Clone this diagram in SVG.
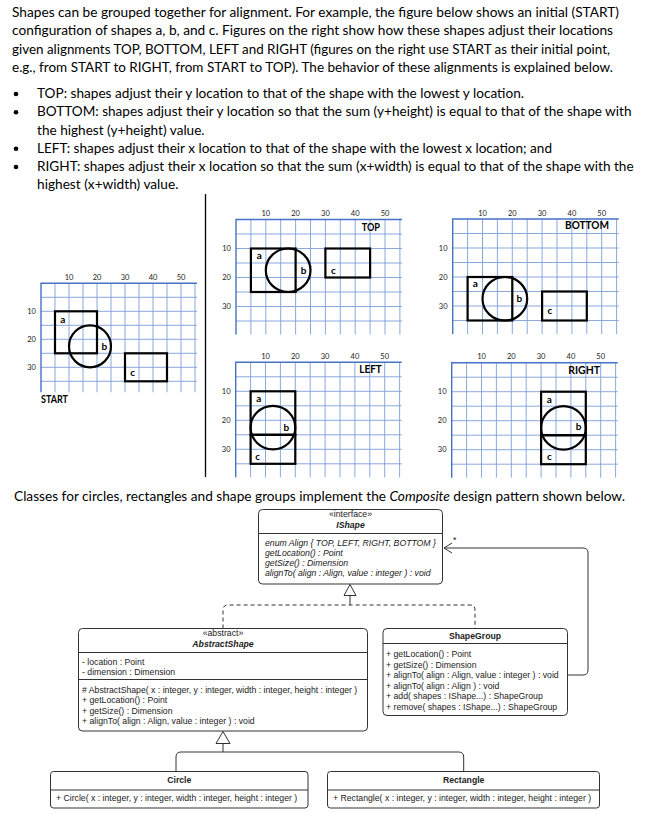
<svg xmlns="http://www.w3.org/2000/svg" xmlns:xlink="http://www.w3.org/1999/xlink" width="651" height="828" viewBox="0 0 651 828">
<style>
.body{font-family:"Lato","Open Sans","Liberation Sans",sans-serif;font-size:13px;fill:#000}
.num{font-family:"Lato","Liberation Sans",sans-serif;font-size:7.5px;fill:#222;text-anchor:middle}
.ttl{font-family:"Lato","Liberation Sans",sans-serif;font-size:10.5px;font-weight:bold;fill:#000}
.lbl{font-family:"Lato","Liberation Sans",sans-serif;font-size:10px;font-weight:bold;fill:#000;text-anchor:middle}
.shp{fill:none;stroke:#000;stroke-width:2.2}
.gl{fill:none;stroke:#7E9ED9;stroke-width:0.9}
.ga{fill:none;stroke:#4472C4;stroke-width:1.4}
.uml{font-family:"Liberation Sans",Arial,sans-serif;font-size:8.7px;fill:#222}
.it{font-style:italic}
.b{font-weight:bold}
.mid{text-anchor:middle}
.box{fill:#fff;stroke:#333;stroke-width:1}
.conn{fill:none;stroke:#333;stroke-width:1}
.dash{stroke-dasharray:4 3}
</style>
<defs>
<g id="gridR">
<path class="gl" d="M14.9 0V115M29.8 0V115M44.7 0V115M59.6 0V115M74.5 0V115M89.4 0V115M104.3 0V115M119.2 0V115M134.1 0V115M149 0V115M163.9 0V115M0 14.5H166M0 29H166M0 43.5H166M0 58H166M0 72.5H166M0 87H166M0 101.5H166"/>
<path class="ga" d="M0 115V0H166"/>
</g>
<g id="gridS">
<path class="gl" d="M14 0V109M28 0V109M42 0V109M56 0V109M70 0V109M84 0V109M98 0V109M112 0V109M126 0V109M140 0V109M154 0V109M0 14H156M0 28H156M0 42H156M0 56H156M0 70H156M0 84H156M0 98H156"/>
<path class="ga" d="M0 109V0H156"/>
</g>
</defs>
<rect width="651" height="828" fill="#fff"/>

<g id="intro">
<text class="body" x="12" y="17" textLength="607" lengthAdjust="spacingAndGlyphs">Shapes can be grouped together for alignment. For example, the figure below shows an initial (START)</text>
<text class="body" x="12" y="35.3" textLength="601" lengthAdjust="spacingAndGlyphs">configuration of shapes a, b, and c. Figures on the right show how these shapes adjust their locations</text>
<text class="body" x="12" y="53.5" textLength="598" lengthAdjust="spacingAndGlyphs">given alignments TOP, BOTTOM, LEFT and RIGHT (figures on the right use START as their initial point,</text>
<text class="body" x="12" y="71.7" textLength="601" lengthAdjust="spacingAndGlyphs">e.g., from START to RIGHT, from START to TOP). The behavior of these alignments is explained below.</text>
<circle cx="16" cy="94" r="2.3"/>
<circle cx="16" cy="112.3" r="2.3"/>
<circle cx="16" cy="148.7" r="2.3"/>
<circle cx="16" cy="167" r="2.3"/>
<text class="body" x="37" y="98" textLength="487" lengthAdjust="spacingAndGlyphs">TOP: shapes adjust their y location to that of the shape with the lowest y location.</text>
<text class="body" x="37" y="116.3" textLength="594.5" lengthAdjust="spacingAndGlyphs">BOTTOM: shapes adjust their y location so that the sum (y+height) is equal to that of the shape with</text>
<text class="body" x="37" y="134.5" textLength="167.6" lengthAdjust="spacingAndGlyphs">the highest (y+height) value.</text>
<text class="body" x="37" y="152.7" textLength="515" lengthAdjust="spacingAndGlyphs">LEFT: shapes adjust their x location to that of the shape with the lowest x location; and</text>
<text class="body" x="37" y="171" textLength="596.6" lengthAdjust="spacingAndGlyphs">RIGHT: shapes adjust their x location so that the sum (x+width) is equal to that of the shape with the</text>
<text class="body" x="37" y="189.2" textLength="141.4" lengthAdjust="spacingAndGlyphs">highest (x+width) value.</text>
</g>

<line x1="205.5" y1="194" x2="205.5" y2="477" stroke="#000" stroke-width="1.3"/>

<g id="start">
<use xlink:href="#gridS" x="41" y="283.3"/>
<text class="num" x="69" y="280.3">10</text><text class="num" x="97" y="280.3">20</text><text class="num" x="125" y="280.3">30</text><text class="num" x="153" y="280.3">40</text><text class="num" x="181" y="280.3">50</text>
<text class="num" x="31.5" y="314">10</text><text class="num" x="31.5" y="342">20</text><text class="num" x="31.5" y="370">30</text>
<rect class="shp" x="55" y="311.3" width="42" height="42"/>
<circle class="shp" cx="90" cy="346.3" r="21"/>
<rect class="shp" x="125" y="353.3" width="42" height="28"/>
<text class="lbl" x="62.7" y="322.5">a</text>
<text class="lbl" x="104.3" y="349.5">b</text>
<text class="lbl" x="132.7" y="376">c</text>
<text class="ttl" x="41" y="403" textLength="27" lengthAdjust="spacingAndGlyphs">START</text>
</g>

<g id="top">
<use xlink:href="#gridR" x="236" y="219.5"/>
<text class="num" x="265.8" y="216">10</text><text class="num" x="295.6" y="216">20</text><text class="num" x="325.4" y="216">30</text><text class="num" x="355.2" y="216">40</text><text class="num" x="385" y="216">50</text>
<text class="num" x="226.5" y="251.2">10</text><text class="num" x="226.5" y="280.2">20</text><text class="num" x="226.5" y="309.2">30</text>
<rect class="shp" x="250.9" y="248.5" width="44.7" height="43.5"/>
<ellipse class="shp" cx="288.15" cy="270.25" rx="22.35" ry="21.75"/>
<rect class="shp" x="325.4" y="248.5" width="44.7" height="29"/>
<text class="lbl" x="259.3" y="259.2">a</text>
<text class="lbl" x="303.7" y="274.2">b</text>
<text class="lbl" x="333.3" y="274.2">c</text>
<text class="ttl" x="361.7" y="231" textLength="18.3" lengthAdjust="spacingAndGlyphs">TOP</text>
</g>

<g id="bottom">
<use xlink:href="#gridR" x="452.7" y="219"/>
<text class="num" x="482.5" y="215.5">10</text><text class="num" x="512.3" y="215.5">20</text><text class="num" x="542.1" y="215.5">30</text><text class="num" x="571.9" y="215.5">40</text><text class="num" x="601.7" y="215.5">50</text>
<text class="num" x="443.2" y="250.7">10</text><text class="num" x="443.2" y="279.7">20</text><text class="num" x="443.2" y="308.7">30</text>
<rect class="shp" x="467.6" y="277" width="44.7" height="43.5"/>
<ellipse class="shp" cx="504.85" cy="298.75" rx="22.35" ry="21.75"/>
<rect class="shp" x="542.1" y="291.5" width="44.7" height="29"/>
<text class="lbl" x="475.3" y="286.8">a</text>
<text class="lbl" x="519.3" y="302.2">b</text>
<text class="lbl" x="550" y="314.2">c</text>
<text class="ttl" x="565" y="229.3" textLength="44" lengthAdjust="spacingAndGlyphs">BOTTOM</text>
</g>

<g id="left">
<use xlink:href="#gridR" x="235.7" y="362.3"/>
<text class="num" x="265.5" y="358.8">10</text><text class="num" x="295.3" y="358.8">20</text><text class="num" x="325.1" y="358.8">30</text><text class="num" x="354.9" y="358.8">40</text><text class="num" x="384.7" y="358.8">50</text>
<text class="num" x="226.2" y="394">10</text><text class="num" x="226.2" y="423">20</text><text class="num" x="226.2" y="452">30</text>
<rect class="shp" x="250.6" y="391.3" width="44.7" height="43.5"/>
<ellipse class="shp" cx="272.95" cy="427.55" rx="22.35" ry="21.75"/>
<rect class="shp" x="250.6" y="434.8" width="44.7" height="29"/>
<text class="lbl" x="258.7" y="401.8">a</text>
<text class="lbl" x="286.3" y="430.8">b</text>
<text class="lbl" x="257.7" y="459.5">c</text>
<text class="ttl" x="359.3" y="373" textLength="22.4" lengthAdjust="spacingAndGlyphs">LEFT</text>
</g>

<g id="right">
<use xlink:href="#gridR" x="451.7" y="362.7"/>
<text class="num" x="481.5" y="359.2">10</text><text class="num" x="511.3" y="359.2">20</text><text class="num" x="541.1" y="359.2">30</text><text class="num" x="570.9" y="359.2">40</text><text class="num" x="600.7" y="359.2">50</text>
<text class="num" x="442.2" y="394.4">10</text><text class="num" x="442.2" y="423.4">20</text><text class="num" x="442.2" y="452.4">30</text>
<rect class="shp" x="541.1" y="391.7" width="44.7" height="43.5"/>
<ellipse class="shp" cx="563.45" cy="427.95" rx="22.35" ry="21.75"/>
<rect class="shp" x="541.1" y="435.2" width="44.7" height="29"/>
<text class="lbl" x="549.3" y="402.8">a</text>
<text class="lbl" x="578.7" y="430.2">b</text>
<text class="lbl" x="549.3" y="459.5">c</text>
<text class="ttl" x="568.3" y="373.7" textLength="31.7" lengthAdjust="spacingAndGlyphs">RIGHT</text>
</g>

<text class="body" x="14" y="501" textLength="611" lengthAdjust="spacingAndGlyphs">Classes for circles, rectangles and shape groups implement the <tspan font-style="italic">Composite</tspan> design pattern shown below.</text>

<g id="connectors">
<path class="conn" d="M567.5 675H583Q588 675 588 670V553Q588 548 583 548H444"/>
<polyline class="conn" points="452,543 444,548 452,553"/>
<text class="uml" x="453" y="542.5" font-size="8">*</text>
<path class="conn dash" d="M223 628.5V610Q223 605 228 605H470Q475 605 475 610V628.5"/>
<line class="conn" x1="350" y1="595.5" x2="350" y2="605"/>
<polygon class="box" points="350,584.5 344,595.5 356,595.5"/>
<path class="conn" d="M176 771.5V757Q176 752 181 752H458.7Q463.7 752 463.7 757V771.5"/>
<line class="conn" x1="223" y1="743.5" x2="223" y2="752"/>
<polygon class="box" points="223,731.5 216,743.5 230,743.5"/>
</g>

<g id="IShape">
<rect class="box" x="258.5" y="509.5" width="184" height="74.5" rx="4"/>
<line class="conn" x1="258.5" y1="533.5" x2="442.5" y2="533.5"/>
<text class="uml mid" x="350.5" y="516.5" font-size="5">«interface»</text>
<text class="uml mid b it" x="350.5" y="528">IShape</text>
<text class="uml it" x="265" y="545.5">enum Align { TOP, LEFT, RIGHT, BOTTOM }</text>
<text class="uml it" x="265" y="555.5">getLocation() : Point</text>
<text class="uml it" x="265" y="565.5">getSize() : Dimension</text>
<text class="uml it" x="265" y="575.5">alignTo( align : Align, value : integer ) : void</text>
</g>

<g id="AbstractShape">
<rect class="box" x="78.5" y="628.5" width="289" height="102.5" rx="4"/>
<line class="conn" x1="78.5" y1="652.5" x2="367.5" y2="652.5"/>
<line class="conn" x1="78.5" y1="679.5" x2="367.5" y2="679.5"/>
<text class="uml mid" x="223" y="635.5" font-size="5">«abstract»</text>
<text class="uml mid b it" x="223" y="646.5">AbstractShape</text>
<text class="uml" x="82" y="665">- location : Point</text>
<text class="uml" x="82" y="675">- dimension : Dimension</text>
<text class="uml" x="82" y="693">#  AbstractShape( x : integer, y : integer, width : integer, height : integer )</text>
<text class="uml" x="82" y="703.3">+ getLocation() : Point</text>
<text class="uml" x="82" y="713.6">+ getSize() : Dimension</text>
<text class="uml" x="82" y="723.9">+ alignTo( align : Align, value : integer ) : void</text>
</g>

<g id="ShapeGroup">
<rect class="box" x="383" y="628.5" width="184.5" height="87" rx="4"/>
<line class="conn" x1="383" y1="643.5" x2="567.5" y2="643.5"/>
<text class="uml mid b" x="475" y="639">ShapeGroup</text>
<text class="uml" x="386" y="657">+ getLocation() : Point</text>
<text class="uml" x="386" y="667.5">+ getSize() : Dimension</text>
<text class="uml" x="386" y="678">+ alignTo( align : Align, value : integer ) : void</text>
<text class="uml" x="386" y="688.5">+ alignTo( align : Align ) : void</text>
<text class="uml" x="386" y="699">+ add( shapes : IShape...) : ShapeGroup</text>
<text class="uml" x="386" y="709.5">+ remove( shapes : IShape...) : ShapeGroup</text>
</g>

<g id="Circle">
<rect class="box" x="50.5" y="771.5" width="257.5" height="36.5" rx="3"/>
<line class="conn" x1="50.5" y1="790" x2="308" y2="790"/>
<text class="uml mid b" x="179.3" y="782.5">Circle</text>
<text class="uml" x="56" y="800.5">+ Circle( x : integer, y : integer, width : integer, height : integer )</text>
</g>

<g id="Rectangle">
<rect class="box" x="327.5" y="771.5" width="272" height="36.5" rx="3"/>
<line class="conn" x1="327.5" y1="790" x2="599.5" y2="790"/>
<text class="uml mid b" x="463.7" y="782.5">Rectangle</text>
<text class="uml" x="333" y="800.5">+ Rectangle( x : integer, y : integer, width : integer, height : integer )</text>
</g>
</svg>
